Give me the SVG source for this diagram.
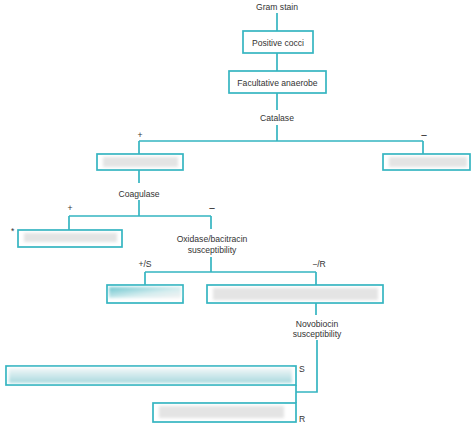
<svg xmlns="http://www.w3.org/2000/svg" width="474" height="427" viewBox="0 0 474 427">
<style>
.box{fill:#fff;stroke:#35b5c1;stroke-width:1.7}
.ln{fill:none;stroke:#35b5c1;stroke-width:1.7}
.t{font-family:"Liberation Sans",Arial,sans-serif;font-size:8.6px;fill:#333;text-anchor:middle}
.ts{font-family:"Liberation Sans",Arial,sans-serif;font-size:8.6px;fill:#333}
.sg{font-family:"Liberation Sans",Arial,sans-serif;font-size:11px;fill:#222;text-anchor:middle}
.blur{fill:#e4e4e4;filter:url(#b)}
.tealf{fill:url(#tg);filter:url(#b)}
</style>
<defs>
<filter id="b" x="-10%" y="-50%" width="120%" height="200%"><feGaussianBlur stdDeviation="1.5"/></filter>
<linearGradient id="tg" x1="0" y1="0" x2="0" y2="1">
<stop offset="0" stop-color="#f2f7f8"/>
<stop offset="1" stop-color="#a9d9de"/>
</linearGradient>
<linearGradient id="tg2" x1="0" y1="0" x2="1" y2="1">
<stop offset="0" stop-color="#6cc6cf"/>
<stop offset="0.6" stop-color="#d8eef0"/>
<stop offset="1" stop-color="#f3f3f3"/>
</linearGradient>
</defs>
<g id="connectors">
<path class="ln" d="M277 13V31M277 53V71M277 93V110M277 125V141M139 141H423M139 141V154M423 141V154"/>
<path class="ln" d="M139 170V183M139 200V216M69 216H211M69 216V230M211 216V229"/>
<path class="ln" d="M211 257V272M145 272H316M145 272V285M316 272V285"/>
<path class="ln" d="M316 303V315M317 340V392H296M296 385V403"/>
</g>
<g id="gram-stain"><text class="t" x="277" y="10">Gram stain</text></g>
<g id="positive-cocci"><rect class="box" x="243" y="31" width="70" height="22"/><text class="t" x="278" y="45.5">Positive cocci</text></g>
<g id="facultative-anaerobe"><rect class="box" x="229" y="71" width="97" height="22"/><text class="t" x="277.5" y="85.5">Facultative anaerobe</text></g>
<g id="catalase"><text class="t" x="277" y="121">Catalase</text>
<text class="t" x="140" y="138">+</text><text class="sg" x="424" y="139">−</text></g>
<g id="catalase-pos"><rect class="box" x="97" y="154" width="86" height="16"/><rect class="blur" x="103" y="157" width="75" height="10"/></g>
<g id="catalase-neg"><rect class="box" x="383" y="154" width="87" height="16"/><rect class="blur" x="389" y="157" width="78" height="10"/></g>
<g id="coagulase"><text class="t" x="139" y="197">Coagulase</text>
<text class="t" x="70" y="211">+</text><text class="sg" x="212" y="212">−</text></g>
<g id="coagulase-pos"><text class="ts" x="11" y="234" font-size="6">*</text><rect class="box" x="18" y="230" width="104" height="17"/><rect class="blur" x="24" y="233" width="93" height="9"/></g>
<g id="oxidase"><text class="t" x="212" y="242">Oxidase/bacitracin</text><text class="t" x="212" y="253">susceptibility</text>
<text class="t" x="145" y="267">+/S</text><text class="t" x="319" y="267">−/R</text></g>
<g id="oxidase-pos"><rect class="box" x="107" y="285" width="76" height="18"/><rect x="109" y="287" width="72" height="11" fill="url(#tg2)" filter="url(#b)"/></g>
<g id="oxidase-neg"><rect class="box" x="207" y="285" width="176" height="18"/><rect class="blur" x="213" y="288" width="165" height="12"/></g>
<g id="novobiocin"><text class="t" x="317" y="327">Novobiocin</text><text class="t" x="317" y="337">susceptibility</text></g>
<g id="novobiocin-s"><rect class="box" x="6" y="366" width="290" height="19"/><rect class="tealf" x="9" y="368" width="283" height="15"/><text class="ts" x="299" y="372">S</text></g>
<g id="novobiocin-r"><rect class="box" x="153" y="403" width="143" height="19"/><rect class="blur" x="159" y="406" width="125" height="12"/><text class="ts" x="299" y="422">R</text></g>
</svg>
